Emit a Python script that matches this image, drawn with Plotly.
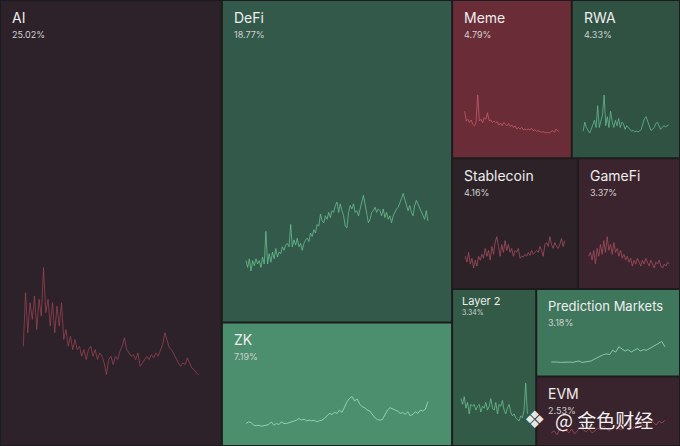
import plotly.graph_objects as go

# ---------------- data ----------------
categories = ["AI", "DeFi", "ZK", "Meme", "RWA", "Stablecoin", "GameFi",
              "Layer 2", "Prediction Markets", "EVM"]
shares = [25.02, 18.77, 7.19, 4.79, 4.33, 4.16, 3.37, 3.34, 3.18, 2.53]

trend_ai = [130, 290, 170, 260, 210, 280, 180, 270, 220, 365, 230, 270, 190, 260, 170, 250,
            190, 260, 150, 180, 130, 160, 120, 150, 120, 130, 100, 120, 90, 120, 130, 100,
            120, 90, 110, 100, 80, 45, 90, 100, 75, 100, 90, 115, 130, 155, 120, 110, 100,
            105, 90, 110, 70, 80, 90, 100, 90, 105, 95, 110, 100, 120, 135, 170, 150, 125,
            120, 105, 90, 80, 70, 80, 75, 95, 80, 65, 60, 50, 45]
trend_defi = [60, 40, 65, 30, 60, 45, 65, 50, 60, 40, 70, 50, 145, 50, 80, 55, 85, 65, 95, 70,
              85, 80, 100, 90, 105, 110, 100, 165, 100, 120, 105, 125, 100, 110, 90, 110, 120,
              125, 115, 140, 130, 150, 140, 165, 160, 195, 175, 170, 190, 180, 200, 185, 205,
              200, 220, 230, 200, 225, 205, 190, 160, 155, 200, 220, 210, 225, 200, 205, 190,
              215, 230, 250, 220, 190, 170, 180, 200, 205, 215, 200, 210, 205, 190, 210, 185,
              200, 180, 190, 170, 190, 200, 210, 215, 225, 240, 255, 240, 220, 205, 220, 200,
              190, 220, 235, 225, 210, 200, 190, 180, 205, 175]
trend_zk = [25, 30, 28, 20, 18, 20, 17, 18, 20, 22, 30, 20, 25, 22, 30, 25, 25, 27, 30, 32, 35,
            40, 35, 38, 33, 35, 33, 35, 30, 33, 35, 40, 47, 55, 52, 58, 55, 65, 58, 75, 90, 100,
            105, 92, 98, 82, 75, 72, 65, 62, 50, 42, 37, 35, 37, 50, 65, 72, 68, 65, 62, 55, 58,
            52, 60, 48, 52, 60, 55, 65, 62, 68, 90]
trend_meme = [75, 45, 50, 40, 48, 35, 30, 40, 125, 45, 50, 40, 55, 50, 70, 45, 48, 40, 45, 40,
              42, 32, 38, 30, 40, 35, 30, 37, 28, 32, 25, 30, 20, 25, 20, 25, 18, 20, 17, 20, 18,
              22, 15, 18, 13, 15, 12, 10, 12, 10, 8, 10, 8, 12, 15, 10, 20, 15, 12]
trend_rwa = [15, 40, 25, 15, 10, 20, 30, 45, 25, 85, 25, 40, 60, 115, 30, 55, 25, 70, 40, 25,
             45, 30, 50, 25, 40, 35, 20, 30, 25, 20, 15, 17, 13, 15, 13, 15, 20, 35, 50, 55, 40,
             25, 17, 20, 25, 35, 40, 30, 20, 25, 30, 27, 30, 32]
trend_stablecoin = [50, 35, 60, 30, 45, 20, 40, 25, 50, 40, 55, 45, 70, 50, 65, 40, 75, 55, 85,
                    100, 75, 50, 80, 60, 90, 65, 80, 60, 70, 50, 65, 60, 70, 45, 50, 48, 55, 50,
                    60, 52, 65, 55, 60, 65, 60, 75, 65, 50, 80, 85, 75, 100, 80, 70, 85, 75, 70,
                    80, 95, 75, 90]
trend_gamefi = [60, 70, 50, 75, 40, 80, 60, 90, 65, 100, 70, 110, 75, 90, 65, 95, 70, 80, 60,
                75, 55, 65, 50, 60, 45, 55, 35, 50, 40, 55, 45, 35, 50, 40, 55, 45, 35, 50, 40,
                30, 45, 40, 50, 35, 30, 40, 35, 45, 40]
trend_layer2 = [80, 65, 85, 55, 70, 40, 65, 60, 65, 50, 60, 65, 45, 60, 55, 70, 50, 60, 80, 55,
                50, 70, 40, 65, 60, 75, 50, 40, 55, 65, 45, 35, 40, 30, 25, 22, 35, 30, 50, 120,
                40]
trend_prediction = [7, 8, 7, 6, 7, 6, 7, 6, 7, 10, 6, 7, 8, 10, 15, 20, 25, 28, 30, 28, 40, 35,
                    50, 45, 38, 42, 35, 40, 45, 38, 42, 40, 45, 50, 55, 60, 65, 50]
trend_evm = [40, 42, 38, 45, 41, 43, 40, 44, 39, 42, 46, 43, 41, 44, 40, 42, 45, 43, 47, 44,
             42, 46, 48, 45, 43, 47, 50, 46, 44, 48, 52, 49, 47, 50, 55, 51, 48, 52, 50, 53]

trends = [trend_ai, trend_defi, trend_zk, trend_meme, trend_rwa, trend_stablecoin,
          trend_gamefi, trend_layer2, trend_prediction, trend_evm]

# ---------------- styles ----------------
W, H = 680, 446
tile_colors = ["#2d2229", "#32594a", "#4b8f6f", "#6a2c37", "#2f5243", "#2c2228",
               "#3b242d", "#335a47", "#3f775d", "#39232c"]
line_colors = ["rgba(160,70,85,0.7)", "rgba(110,195,150,0.75)", "rgba(160,225,190,0.8)",
               "rgba(200,95,105,0.75)", "rgba(105,190,145,0.75)", "rgba(170,80,95,0.75)",
               "rgba(170,80,95,0.75)", "rgba(110,195,150,0.75)", "rgba(150,220,180,0.8)",
               "rgba(170,80,95,0.75)"]
border_color = "#1c1c1e"


def squarify(values, x, y, w, h):
    total = sum(values)
    scale = w * h / total
    areas = [v * scale for v in values]
    rects = []

    def worst(row, side):
        s = sum(row)
        return max(max(side * side * r / (s * s), (s * s) / (side * side * r)) for r in row)

    def place(row, x, y, w, h):
        s = sum(row)
        if w >= h:
            cw = s / h
            yy = y
            for r in row:
                rh = r / cw
                rects.append((x, yy, cw, rh))
                yy += rh
            return x + cw, y, w - cw, h
        rh = s / w
        xx = x
        for r in row:
            rw = r / rh
            rects.append((xx, y, rw, rh))
            xx += rw
        return x, y + rh, w, h - rh

    row = []
    i = 0
    while i < len(areas):
        side = min(w, h)
        a = areas[i]
        if not row or worst(row + [a], side) <= worst(row, side):
            row.append(a)
            i += 1
        else:
            x, y, w, h = place(row, x, y, w, h)
            row = []
    if row:
        place(row, x, y, w, h)
    return rects


rects = squarify(shares, 0, 0, W, H)

fig = go.Figure()
shapes = []
annotations = []
for k, (name, share, tr) in enumerate(zip(categories, shares, trends)):
    x0, y0, w, h = rects[k]
    shapes.append(dict(type="rect", xref="x", yref="y", x0=x0 + 1, x1=x0 + w - 1,
                       y0=y0 + 1, y1=y0 + h - 1, fillcolor=tile_colors[k],
                       line=dict(width=0), layer="below"))
    n = len(tr)
    vmin, vmax = min(tr), max(tr)
    xs = [x0 + w * (0.105 + 0.79 * i / (n - 1)) for i in range(n)]
    ys = [y0 + h * (0.84 - 0.24 * (v - vmin) / (vmax - vmin)) for v in tr]
    fig.add_trace(go.Scatter(x=xs, y=ys, mode="lines",
                             line=dict(color=line_colors[k], width=1),
                             hoverinfo="skip", showlegend=False))
    small = w < 100
    lab_size = 11 if small else (13 if len(name) > 14 else 14)
    pct_size = 7 if small else 9
    lx = x0 + (8 if small else 10)
    annotations.append(dict(x=lx, y=y0 + (12 if small else 17), xref="x", yref="y",
                            text=name, showarrow=False, xanchor="left", yanchor="middle",
                            font=dict(family="Inter, Roboto, sans-serif", size=lab_size,
                                      color="#eeeeee")))
    annotations.append(dict(x=lx, y=y0 + (24 if small else 34), xref="x", yref="y",
                            text=f"{share:.2f}%", showarrow=False, xanchor="left",
                            yanchor="middle",
                            font=dict(family="Inter, Roboto, sans-serif", size=pct_size,
                                      color="#d0d0d0")))

# watermark
annotations.append(dict(x=535, y=420, xref="x", yref="y", text="❖", showarrow=False,
                        xanchor="center", yanchor="middle",
                        font=dict(family="DejaVu Sans", size=24, color="rgba(255,255,255,0.9)")))
annotations.append(dict(x=553, y=419, xref="x", yref="y", text="@ 金色财经", showarrow=False,
                        xanchor="left", yanchor="middle",
                        font=dict(family="Noto Sans CJK SC", size=19, color="rgba(255,255,255,0.95)")))

fig.update_layout(
    width=W, height=H, margin=dict(l=0, r=0, t=0, b=0),
    paper_bgcolor=border_color, plot_bgcolor=border_color,
    xaxis=dict(range=[0, W], visible=False, fixedrange=True),
    yaxis=dict(range=[H, 0], visible=False, fixedrange=True),
    shapes=shapes, annotations=annotations, showlegend=False,
)
fig.write_html("out.html", config={"displayModeBar": False},
               post_script="document.body.style.margin='0';document.body.style.overflow='hidden';")
